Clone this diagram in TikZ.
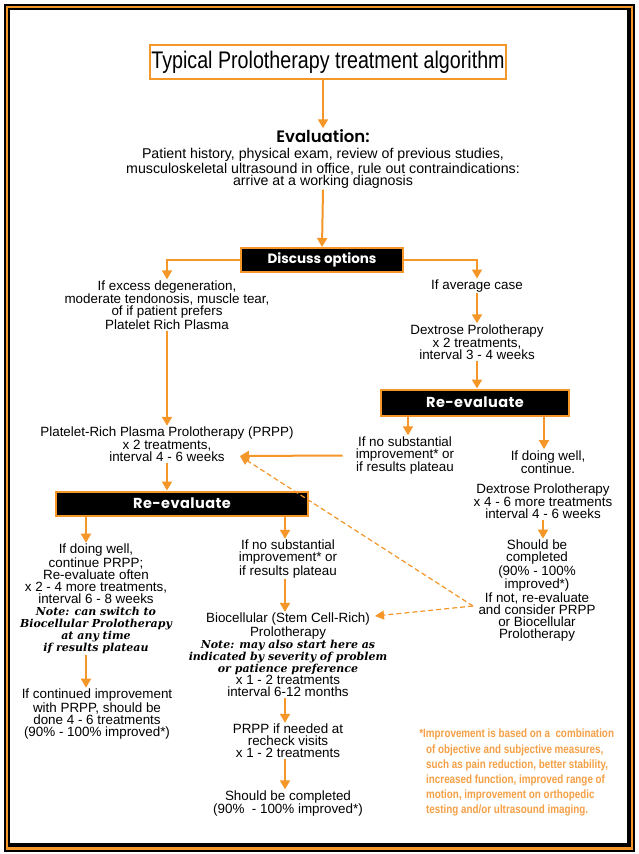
\documentclass[tikz,border=0pt]{standalone}
\usepackage{fontspec}
\setmainfont{Liberation Sans}
\newfontfamily\titlefont[FakeStretch=0.82]{Liberation Sans}
\newfontfamily\geofont{Poppins}
\newfontfamily\geosemi{Poppins SemiBold}
\newfontfamily\geospaced[LetterSpace=3]{Poppins}
\newfontfamily\notefont{DejaVu Serif}
\newfontfamily\footfont[FakeStretch=0.82]{Liberation Sans}
\usetikzlibrary{arrows.meta}
\definecolor{orng}{RGB}{244,150,40}
\definecolor{footorng}{RGB}{245,160,70}
\newcommand{\nt}[1]{{\notefont\bfseries\itshape\fontsize{11}{12.1}\selectfont #1}}
\begin{document}
\begin{tikzpicture}[x=1pt,y=-1pt,
  arr/.style={draw=orng, line width=2pt, -{Triangle[length=9pt,width=10pt]}},
  thinarr/.style={draw=orng, line width=1.4pt, -{Triangle[length=9pt,width=10pt]}},
  dasharr/.style={draw=orng, line width=1.2pt, dash pattern=on 5pt off 3pt, -{Triangle[length=9pt,width=9pt]}},
  txt/.style={align=center, font=\fontsize{13.4}{12.1}\selectfont, inner sep=1pt},
  txtE/.style={align=center, font=\fontsize{14.2}{12.3}\selectfont, inner sep=1pt},
  titlebox/.style={draw=orng, fill=white, line width=1.3pt, font=\titlefont\fontsize{24}{26}\selectfont, minimum width=356, minimum height=34, inner sep=0pt},
  evalhead/.style={font=\geosemi\fontsize{16.5}{18}\selectfont, inner sep=1pt},
  darkbox/.style={fill=black, draw=orng, line width=2pt, text=white, font=\geofont\bfseries\fontsize{13.5}{14}\selectfont, inner sep=0pt},
  spaced/.style={font=\geospaced\bfseries\fontsize{14.5}{15}\selectfont},
  foot/.style={align=left, text=footorng, font=\footfont\bfseries\fontsize{12}{15.2}\selectfont, inner sep=0pt}
]
\useasboundingbox (0,0) rectangle (639,854);
% frame
\fill[black] (4,4) rectangle (635,852);
\fill[orng] (6,6) rectangle (633,850);
\fill[black] (8,8) rectangle (631,847);
\fill[white] (10,10) rectangle (627,843);

\node[titlebox] (title) at (328,62) {Typical Prolotherapy treatment algorithm};
\node[evalhead] (evalh) at (323,136) {Evaluation:};
\node[txtE] (evalt) at (323,168.5) {Patient history, physical exam, review of previous studies,\\musculoskeletal ultrasound in office, rule out contraindications:\\arrive at a working diagnosis};
\node[darkbox, minimum width=162, minimum height=24] (discuss) at (322,260) {Discuss options};
\node[txt] (degen) at (167,305) {If excess degeneration,\\moderate tendonosis, muscle tear,\\of if patient prefers\\Platelet Rich Plasma};
\node[txt] (prpp) at (167,444.5) {Platelet-Rich Plasma Prolotherapy (PRPP)\\x 2 treatments,\\interval 4 - 6 weeks};
\node[txt] (avg) at (477,286) {If average case};
\node[txt] (dex1) at (477,342) {Dextrose Prolotherapy\\x 2 treatments,\\interval 3 - 4 weeks};
\node[darkbox, spaced, minimum width=188, minimum height=26] (reevR) at (475,402.5) {Re-evaluate};
\node[txt] (noimpR) at (405,455.5) {If no substantial\\improvement* or\\if results plateau};
\node[txt] (wellR) at (548,462) {If doing well,\\continue.};
\node[txt] (dex2) at (543,501.5) {Dextrose Prolotherapy\\x 4 - 6 more treatments\\interval 4 - 6 weeks};
\node[txt] (compR) at (537,590.5) {Should be\\completed\\(90\% - 100\%\\improved*)\\If not, re-evaluate\\and consider PRPP\\or Biocellular\\Prolotherapy};
\node[darkbox, spaced, minimum width=252, minimum height=24] (reevL) at (182,503.5) {Re-evaluate};
\node[txt] (wellL) at (96,599) {If doing well,\\continue PRPP;\\Re-evaluate often\\x 2 - 4 more treatments,\\interval 6 - 8 weeks\\\nt{Note: can switch to}\\\nt{Biocellular Prolotherapy}\\\nt{at any time}\\\nt{if results plateau}};
\node[txt] (contL) at (97,714) {If continued improvement\\with PRPP, should be\\done 4 - 6 treatments\\(90\% - 100\% improved*)};
\node[txt] (noimpM) at (288,559) {If no substantial\\improvement* or\\if results plateau};
\node[txt] (bio) at (288,655) {Biocellular (Stem Cell-Rich)\\Prolotherapy\\\nt{Note: may also start here as}\\\nt{indicated by severity of problem}\\\nt{or patience preference}\\x 1 - 2 treatments\\interval 6-12 months};
\node[txt] (prppM) at (288,741) {PRPP if needed at\\recheck visits\\x 1 - 2 treatments};
\node[txt] (doneM) at (288,803.5) {Should be completed\\(90\%\ \ - 100\% improved*)};
\node[foot, anchor=north west] (foot) at (423,729) {\llap{*}Improvement is based on a\ \ combination\\\hspace*{3pt}of objective and subjective measures,\\\hspace*{3pt}such as pain reduction, better stability,\\\hspace*{3pt}increased function, improved range of\\\hspace*{3pt}motion, improvement on orthopedic\\\hspace*{3pt}testing and/or ultrasound imaging.};

\coordinate (prppin) at (240,456);
\coordinate (dashsrc) at (473,606);
\coordinate (biocin) at (375,616);

\draw[arr] (title.south -| evalh.north) -- (evalh.north);
\draw[arr] (evalt.south) -- (discuss.north);
\draw[thinarr] (discuss.west) -| (degen.north);
\draw[thinarr] (discuss.east) -| (avg.north);
\draw[arr] (degen.south) -- (prpp.north);
\draw[arr] (prpp.south) -- (prpp.south |- reevL.north);
\draw[arr] (avg.south) -- (dex1.north);
\draw[arr] (dex1.south) -- (dex1.south |- reevR.north);
\draw[arr] ([xshift=-67pt]reevR.south) -- ([xshift=-67pt]reevR.south |- noimpR.north);
\draw[arr] ([xshift=69pt]reevR.south) -- ([xshift=69pt]reevR.south |- wellR.north);
\draw[arr] ([xshift=-12pt]noimpR.west) -- (prppin);
\draw[arr] (dex2.south) -- (dex2.south |- compR.north);
\draw[dasharr] (dashsrc) -- (prppin);
\draw[dasharr] (dashsrc) -- (biocin);
\draw[arr] ([xshift=-96pt]reevL.south) -- ([xshift=-96pt]reevL.south |- wellL.north);
\draw[arr] ([xshift=103pt]reevL.south) -- ([xshift=103pt]reevL.south |- noimpM.north);
\draw[arr] ([xshift=-10pt]wellL.south) -- ([xshift=-10pt]wellL.south |- contL.north);
\draw[arr] ([xshift=-3pt]noimpM.south) -- ([xshift=-3pt]noimpM.south |- bio.north);
\draw[arr] ([xshift=-3pt]bio.south) -- ([xshift=-3pt]bio.south |- prppM.north);
\draw[arr] ([xshift=-3pt]prppM.south) -- ([xshift=-3pt]prppM.south |- doneM.north);
\end{tikzpicture}
\end{document}
